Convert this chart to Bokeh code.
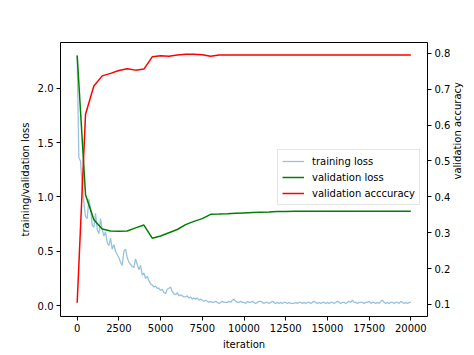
import math
from bokeh.plotting import figure
from bokeh.models import Range1d, LinearAxis, FixedTicker, Legend, LegendItem
from bokeh.embed import file_html
from bokeh.resources import INLINE

# ---- data ----
train_iter = list(range(0, 20001, 100))
train_loss = [
    2.30, 1.36, 1.33, 1.10, 0.95, 0.82, 0.80, 0.98, 0.90, 0.74,
    0.72, 0.85, 0.70, 0.66, 0.80, 0.70, 0.64, 0.68, 0.58, 0.55,
    0.62, 0.52, 0.56, 0.50, 0.47, 0.44, 0.40, 0.37, 0.50, 0.52,
    0.44, 0.40, 0.38, 0.36, 0.35, 0.43, 0.38, 0.33, 0.37, 0.28,
    0.30, 0.25, 0.27, 0.23, 0.20, 0.19, 0.17, 0.18, 0.16, 0.16,
    0.14, 0.15, 0.12, 0.11, 0.15, 0.16, 0.17, 0.13, 0.11, 0.10,
    0.12, 0.09, 0.10, 0.09, 0.08, 0.08, 0.09, 0.07, 0.08, 0.06,
    0.07, 0.06, 0.07, 0.05, 0.06, 0.05, 0.04, 0.05, 0.04, 0.03,
    0.04, 0.03, 0.03, 0.04, 0.03, 0.02, 0.03, 0.04, 0.03, 0.03,
    0.03, 0.04, 0.03, 0.05, 0.06, 0.04, 0.03, 0.03, 0.04, 0.03,
    0.03, 0.02, 0.04, 0.03, 0.03, 0.04, 0.03, 0.02, 0.03, 0.04,
    0.04, 0.03, 0.02, 0.03, 0.03, 0.02, 0.03, 0.04, 0.03, 0.02,
    0.03, 0.02, 0.03, 0.02, 0.03, 0.03, 0.02, 0.03, 0.02, 0.02,
    0.02, 0.03, 0.02, 0.03, 0.03, 0.02, 0.03, 0.02, 0.03, 0.03,
    0.02, 0.03, 0.04, 0.03, 0.02, 0.03, 0.02, 0.03, 0.03, 0.02,
    0.03, 0.02, 0.03, 0.03, 0.02, 0.03, 0.04, 0.03, 0.02, 0.03,
    0.03, 0.02, 0.03, 0.04, 0.03, 0.05, 0.03, 0.03, 0.02, 0.03,
    0.03, 0.03, 0.02, 0.03, 0.03, 0.04, 0.02, 0.03, 0.03, 0.02,
    0.03, 0.02, 0.04, 0.05, 0.03, 0.02, 0.03, 0.02, 0.03, 0.03,
    0.02, 0.03, 0.03, 0.02, 0.04, 0.03, 0.02, 0.03, 0.02, 0.03,
    0.03,
]

val_iter = list(range(0, 20001, 500))
val_loss = [
    2.30, 1.02, 0.79, 0.705, 0.686, 0.683, 0.686, 0.715, 0.741, 0.62,
    0.64, 0.67, 0.70, 0.745, 0.775, 0.80, 0.84, 0.842, 0.845, 0.85,
    0.853, 0.856, 0.859, 0.862, 0.866, 0.866, 0.867, 0.867, 0.867, 0.867,
    0.867, 0.867, 0.867, 0.867, 0.867, 0.867, 0.867, 0.867, 0.867, 0.867,
    0.867,
]
val_acc = [
    0.105, 0.63, 0.709, 0.737, 0.744, 0.752, 0.757, 0.753, 0.756, 0.79,
    0.793, 0.792, 0.795, 0.797, 0.797, 0.796, 0.792, 0.795, 0.795, 0.795,
    0.795, 0.795, 0.795, 0.795, 0.795, 0.795, 0.795, 0.795, 0.795, 0.795,
    0.795, 0.795, 0.795, 0.795, 0.795, 0.795, 0.795, 0.795, 0.795, 0.795,
    0.795,
]

x_ticks = [0, 2500, 5000, 7500, 10000, 12500, 15000, 17500, 20000]
loss_ticks = [0.0, 0.5, 1.0, 1.5, 2.0]
acc_ticks = [0.1, 0.2, 0.3, 0.4, 0.5, 0.6, 0.7, 0.8]

FONT = "DejaVu Sans"

p = figure(width=474, height=355, output_backend="svg", toolbar_location=None,
           x_range=Range1d(-1000, 21000), y_range=Range1d(-0.10, 2.42),
           min_border_left=60, min_border_right=47, min_border_top=42,
           min_border_bottom=39)
p.extra_y_ranges = {"acc": Range1d(0.0665, 0.830)}

p.grid.visible = False
p.outline_line_color = "black"
p.outline_line_width = 1
p.background_fill_color = "white"
p.border_fill_color = "white"

l1 = p.line(train_iter, train_loss, line_color="#1f77b4", line_alpha=0.45, line_width=1.3)
l2 = p.line(val_iter, val_loss, line_color="green", line_width=1.5)
l3 = p.line(val_iter, val_acc, line_color="red", line_width=1.5, y_range_name="acc")

right = LinearAxis(y_range_name="acc")
p.add_layout(right, "right")

for ax in [p.xaxis[0], p.yaxis[0], right]:
    ax.axis_line_color = None
    ax.major_tick_out = 4
    ax.major_tick_in = 0
    ax.minor_tick_out = 0
    ax.minor_tick_in = 0
    ax.major_tick_line_color = "black"
    ax.major_label_text_font = FONT
    ax.major_label_text_font_size = "10px"
    ax.major_label_text_color = "black"
    ax.axis_label_text_font = FONT
    ax.axis_label_text_font_size = "10px"
    ax.axis_label_text_font_style = "normal"
    ax.axis_label_text_color = "black"
    ax.major_label_standoff = 3
    ax.axis_label_standoff = 4

p.xaxis[0].ticker = FixedTicker(ticks=x_ticks)
p.xaxis[0].axis_label = "iteration"
p.yaxis[0].ticker = FixedTicker(ticks=loss_ticks)
p.yaxis[0].major_label_overrides = {t: f"{t:.1f}" for t in loss_ticks}
p.yaxis[0].axis_label = "training/validation loss"
right.ticker = FixedTicker(ticks=acc_ticks)
right.major_label_overrides = {t: f"{t:.1f}" for t in acc_ticks}
right.axis_label = "validation accuracy"
if "axis_label_orientation" in right.properties():
    right.axis_label_orientation = math.pi / 2

legend = Legend(items=[
    LegendItem(label="training loss", renderers=[l1]),
    LegendItem(label="validation loss", renderers=[l2]),
    LegendItem(label="validation acccuracy", renderers=[l3]),
], location=(217, 111))
legend.label_text_font = FONT
legend.label_text_font_size = "10px"
legend.label_text_color = "black"
legend.border_line_color = "#cccccc"
legend.border_line_width = 1
legend.background_fill_alpha = 0.8
legend.padding = 4
legend.margin = 0
legend.spacing = 2
legend.label_height = 14
legend.glyph_height = 14
legend.glyph_width = 22
legend.label_standoff = 8
p.add_layout(legend, "center")

open("out.html", "w").write(file_html(p, INLINE))
